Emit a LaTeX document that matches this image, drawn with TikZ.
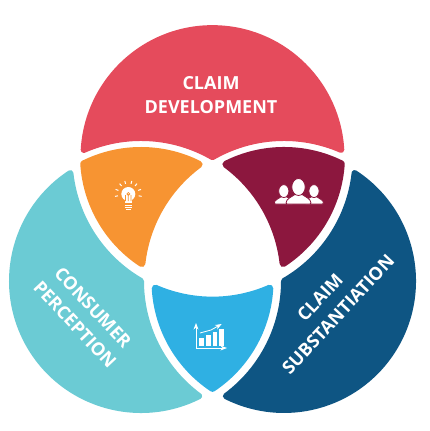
\documentclass[tikz,border=0pt]{standalone}
\usepackage{fontspec}
\setmainfont{Open Sans}
\usetikzlibrary{arrows.meta}
\definecolor{redtop}{HTML}{E54B5C}
\definecolor{tealleft}{HTML}{6BCBD4}
\definecolor{navyright}{HTML}{0E5583}
\definecolor{orangelens}{HTML}{F79432}
\definecolor{maroonlens}{HTML}{8C173E}
\definecolor{bluelens}{HTML}{2FB0E3}
% crescent and lens, drawn around the middle of the three circles
\newcommand{\crescent}[2]{%
  \draw[blob,draw=#1,fill=#1,rotate=#2] (-128.8,89.74)
    arc[start angle=176.81,end angle=3.19,radius=129]
    arc[start angle=66.38,end angle=120,radius=143]
    arc[start angle=60,end angle=113.62,radius=143] -- cycle;}
\newcommand{\lens}[2]{%
  \draw[blob,line width=7pt,draw=#1,fill=#1,rotate=#2] (0,-148.66)
    arc[start angle=-56.34,end angle=-3.19,radius=129]
    arc[start angle=293.62,end angle=246.38,radius=143]
    arc[start angle=183.19,end angle=236.34,radius=129] -- cycle;}
\begin{document}
\begin{tikzpicture}[
  x=1pt,y=1pt,
  blob/.style={line width=6pt,line join=round},
  lbl/.style={text=white,font=\fontsize{18}{24.7}\selectfont\bfseries,align=center,inner sep=0pt},
  ico/.style={white,line width=1pt},
  person/.pic={
    \path[fill=white,draw=maroonlens,line width=.8pt,rounded corners=1pt] (-12.5,0)
      .. controls (-12.5,5) and (-7,7) .. (-3,10)
      -- (3,10) .. controls (7,7) and (12.5,5) .. (12.5,0) -- cycle;
    \path[fill=white,draw=maroonlens,line width=.8pt] (0,17) ellipse (6.7 and 8.5);}
]
\useasboundingbox (0,0) rectangle (429,-431);
% --- the six regions ---
\begin{scope}[shift={(212.5,-239.7)}]
  \crescent{redtop}{0}
  \crescent{tealleft}{120}
  \crescent{navyright}{-120}
  \lens{bluelens}{0}
  \begin{scope}[yshift=1.5pt]
    \lens{orangelens}{-120}
    \lens{maroonlens}{120}
  \end{scope}
\end{scope}
% --- labels ---
\node[lbl](dev)  at(211,-95){CLAIM\\DEVELOPMENT};
\node[lbl,rotate=-47](cons) at(84,-316){CONSUMER\\PERCEPTION};
\node[lbl,rotate=47](subs)  at(329,-306){CLAIM\\SUBSTANTIATION};
% --- bulb icon ---
\foreach \a in {-10,20,50,75,105,130,160,190}
  \draw[ico] (128.3,-194)++(\a:10.5) -- ++(\a:3);
\fill[white] (128.3,-194) circle (7);
\fill[white] (124.5,-199) rectangle (132,-203);
\draw[orangelens,line width=.7pt] (128.3,-201) -- (128.3,-194) circle (1.5)
  (125.5,-201) -- (125.5,-195) (131,-201) -- (131,-195);
\draw[ico] (124.5,-205) -- (132,-205) (124.5,-207) -- (132,-207) (125.5,-209) -- (131,-209);
% --- people icon ---
\pic[scale=.76] at (283.8,-204) {person};
\pic[scale=.76] at (314,-204) {person};
\pic at (298.5,-204) {person};
% --- chart icon ---
\draw[ico,Stealth-Stealth,line width=.8pt] (196,-323) -- (196,-348) -- (227,-348);
\foreach \x/\h in {199.3/338.3,206/335,212.7/331.7,219.3/329.3}
  \fill[white] (\x,-346) rectangle (\x+4.5,-\h);
\draw[ico,-Stealth,line width=.8pt] (200,-333) -- (211,-330) -- (221.7,-324);
\end{tikzpicture}
\end{document}
